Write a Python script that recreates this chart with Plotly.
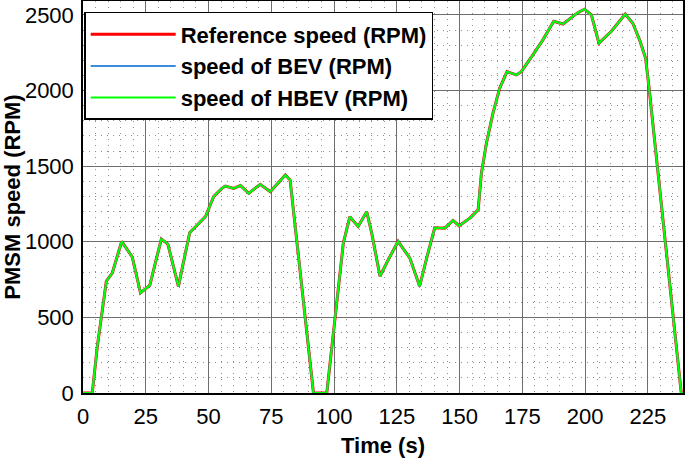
import plotly.graph_objects as go

time_s = [0, 3.7, 5.7, 9.3, 11.7, 15.4, 19.6, 22.9, 26.6, 31.2, 33.8, 38.0, 42.5, 45.5,
          48.8, 52.1, 55.4, 56.7, 60.0, 62.7, 66.0, 70.6, 74.6, 80.6, 82.5, 91.8, 97.1,
          103.7, 106.3, 109.6, 113.0, 115.0, 118.3, 121.6, 125.5, 130.2, 134.1, 137.4,
          140.1, 144.1, 147.4, 149.8, 154.1, 157.4, 158.7, 160.7, 163.3, 166.0, 168.9,
          172.6, 174.6, 179.2, 183.2, 187.5, 191.2, 197.1, 199.8, 202.5, 205.5, 210.4,
          216.0, 219.0, 221.7, 224.1, 225.6, 232.0, 238.3, 239.0]

ref_speed = [0, 0, 308, 740, 795, 1002, 900, 662, 712, 1018, 985, 705, 1060, 1112,
             1167, 1300, 1355, 1368, 1353, 1372, 1320, 1380, 1331, 1441, 1408, 0, 0,
             991, 1166, 1101, 1199, 1057, 772, 881, 1002, 892, 706, 925,
             1092, 1090, 1141, 1106, 1156, 1211, 1454, 1652, 1850, 2016, 2125,
             2103, 2125, 2236, 2335, 2458, 2440, 2515, 2538, 2500, 2313, 2390,
             2506, 2445, 2335, 2214, 2000, 991, 0, 0]

bev_speed = [0, 0, 308, 740, 795, 1002, 900, 662, 712, 1018, 985, 705, 1060, 1112,
             1167, 1300, 1355, 1368, 1353, 1372, 1320, 1380, 1331, 1441, 1408, 0, 0,
             991, 1166, 1101, 1199, 1057, 772, 881, 1002, 892, 706, 925,
             1092, 1090, 1141, 1106, 1156, 1211, 1454, 1652, 1850, 2016, 2125,
             2103, 2125, 2236, 2335, 2458, 2440, 2515, 2538, 2500, 2313, 2390,
             2506, 2445, 2335, 2214, 2000, 991, 0, 0]

hbev_speed = [0, 0, 308, 740, 795, 1002, 900, 662, 712, 1018, 985, 705, 1060, 1112,
              1167, 1300, 1355, 1368, 1353, 1372, 1320, 1380, 1331, 1441, 1408, 0, 0,
              991, 1166, 1101, 1199, 1057, 772, 881, 1002, 892, 706, 925,
              1092, 1090, 1141, 1106, 1156, 1211, 1454, 1652, 1850, 2016, 2125,
              2103, 2125, 2236, 2335, 2458, 2440, 2515, 2538, 2500, 2313, 2390,
              2506, 2445, 2335, 2214, 2000, 991, 0, 0]

series_names = ["Reference speed (RPM)", "speed of BEV (RPM)", "speed of HBEV (RPM)"]
x_ticks = [0, 25, 50, 75, 100, 125, 150, 175, 200, 225]
y_ticks = [0, 500, 1000, 1500, 2000, 2500]

FONT = "Liberation Sans, Arial, Helvetica, sans-serif"

fig = go.Figure()
fig.add_trace(go.Scatter(x=time_s, y=ref_speed, mode="lines", name=series_names[0],
                         line=dict(color="#ff0000", width=3)))
fig.add_trace(go.Scatter(x=time_s, y=bev_speed, mode="lines", name=series_names[1],
                         line=dict(color="#3a8ddb", width=2)))
fig.add_trace(go.Scatter(x=time_s, y=hbev_speed, mode="lines", name=series_names[2],
                         line=dict(color="#00ff00", width=2)))

axis_common = dict(
    showline=True, linecolor="black", linewidth=1.5, mirror=True,
    showgrid=True, gridcolor="#6e6e6e", gridwidth=1,
    zeroline=False, ticks="", automargin=False,
    tickfont=dict(family=FONT, size=22, color="black"),
)

fig.update_xaxes(
    range=[0, 239], tickvals=x_ticks, ticktext=[str(v) for v in x_ticks],
    minor=dict(dtick=5, tick0=0, showgrid=True, gridcolor="#8f8f8f",
               griddash="1px,5px", gridwidth=1),
    title=dict(text="<b>Time (s)</b>", font=dict(family=FONT, size=22, color="black"),
               standoff=9),
    ticklabelstandoff=3,
    **axis_common,
)
fig.update_yaxes(
    range=[0, 2592], tickvals=y_ticks, ticktext=[str(v) for v in y_ticks],
    minor=dict(dtick=100, tick0=0, showgrid=True, gridcolor="#8f8f8f",
               griddash="1px,5px", gridwidth=1),
    title=dict(text="<b>PMSM speed (RPM)</b>", font=dict(family=FONT, size=22, color="black"),
               standoff=3),
    ticklabelstandoff=3,
    **axis_common,
)

fig.update_layout(
    width=685, height=460,
    margin=dict(l=83, r=2, t=1, b=67),
    paper_bgcolor="white", plot_bgcolor="white",
    showlegend=True,
    legend=dict(
        x=0.002, y=0.972, xanchor="left", yanchor="top",
        bgcolor="white", bordercolor="black", borderwidth=1.5,
        font=dict(family=FONT, size=22, color="black", weight="bold"),
        itemwidth=85, tracegroupgap=0,
    ),
)

fig.write_html(
    "out.html",
    config={"displayModeBar": False},
    post_script="document.body.style.margin='0';document.body.style.overflow='hidden';",
)
